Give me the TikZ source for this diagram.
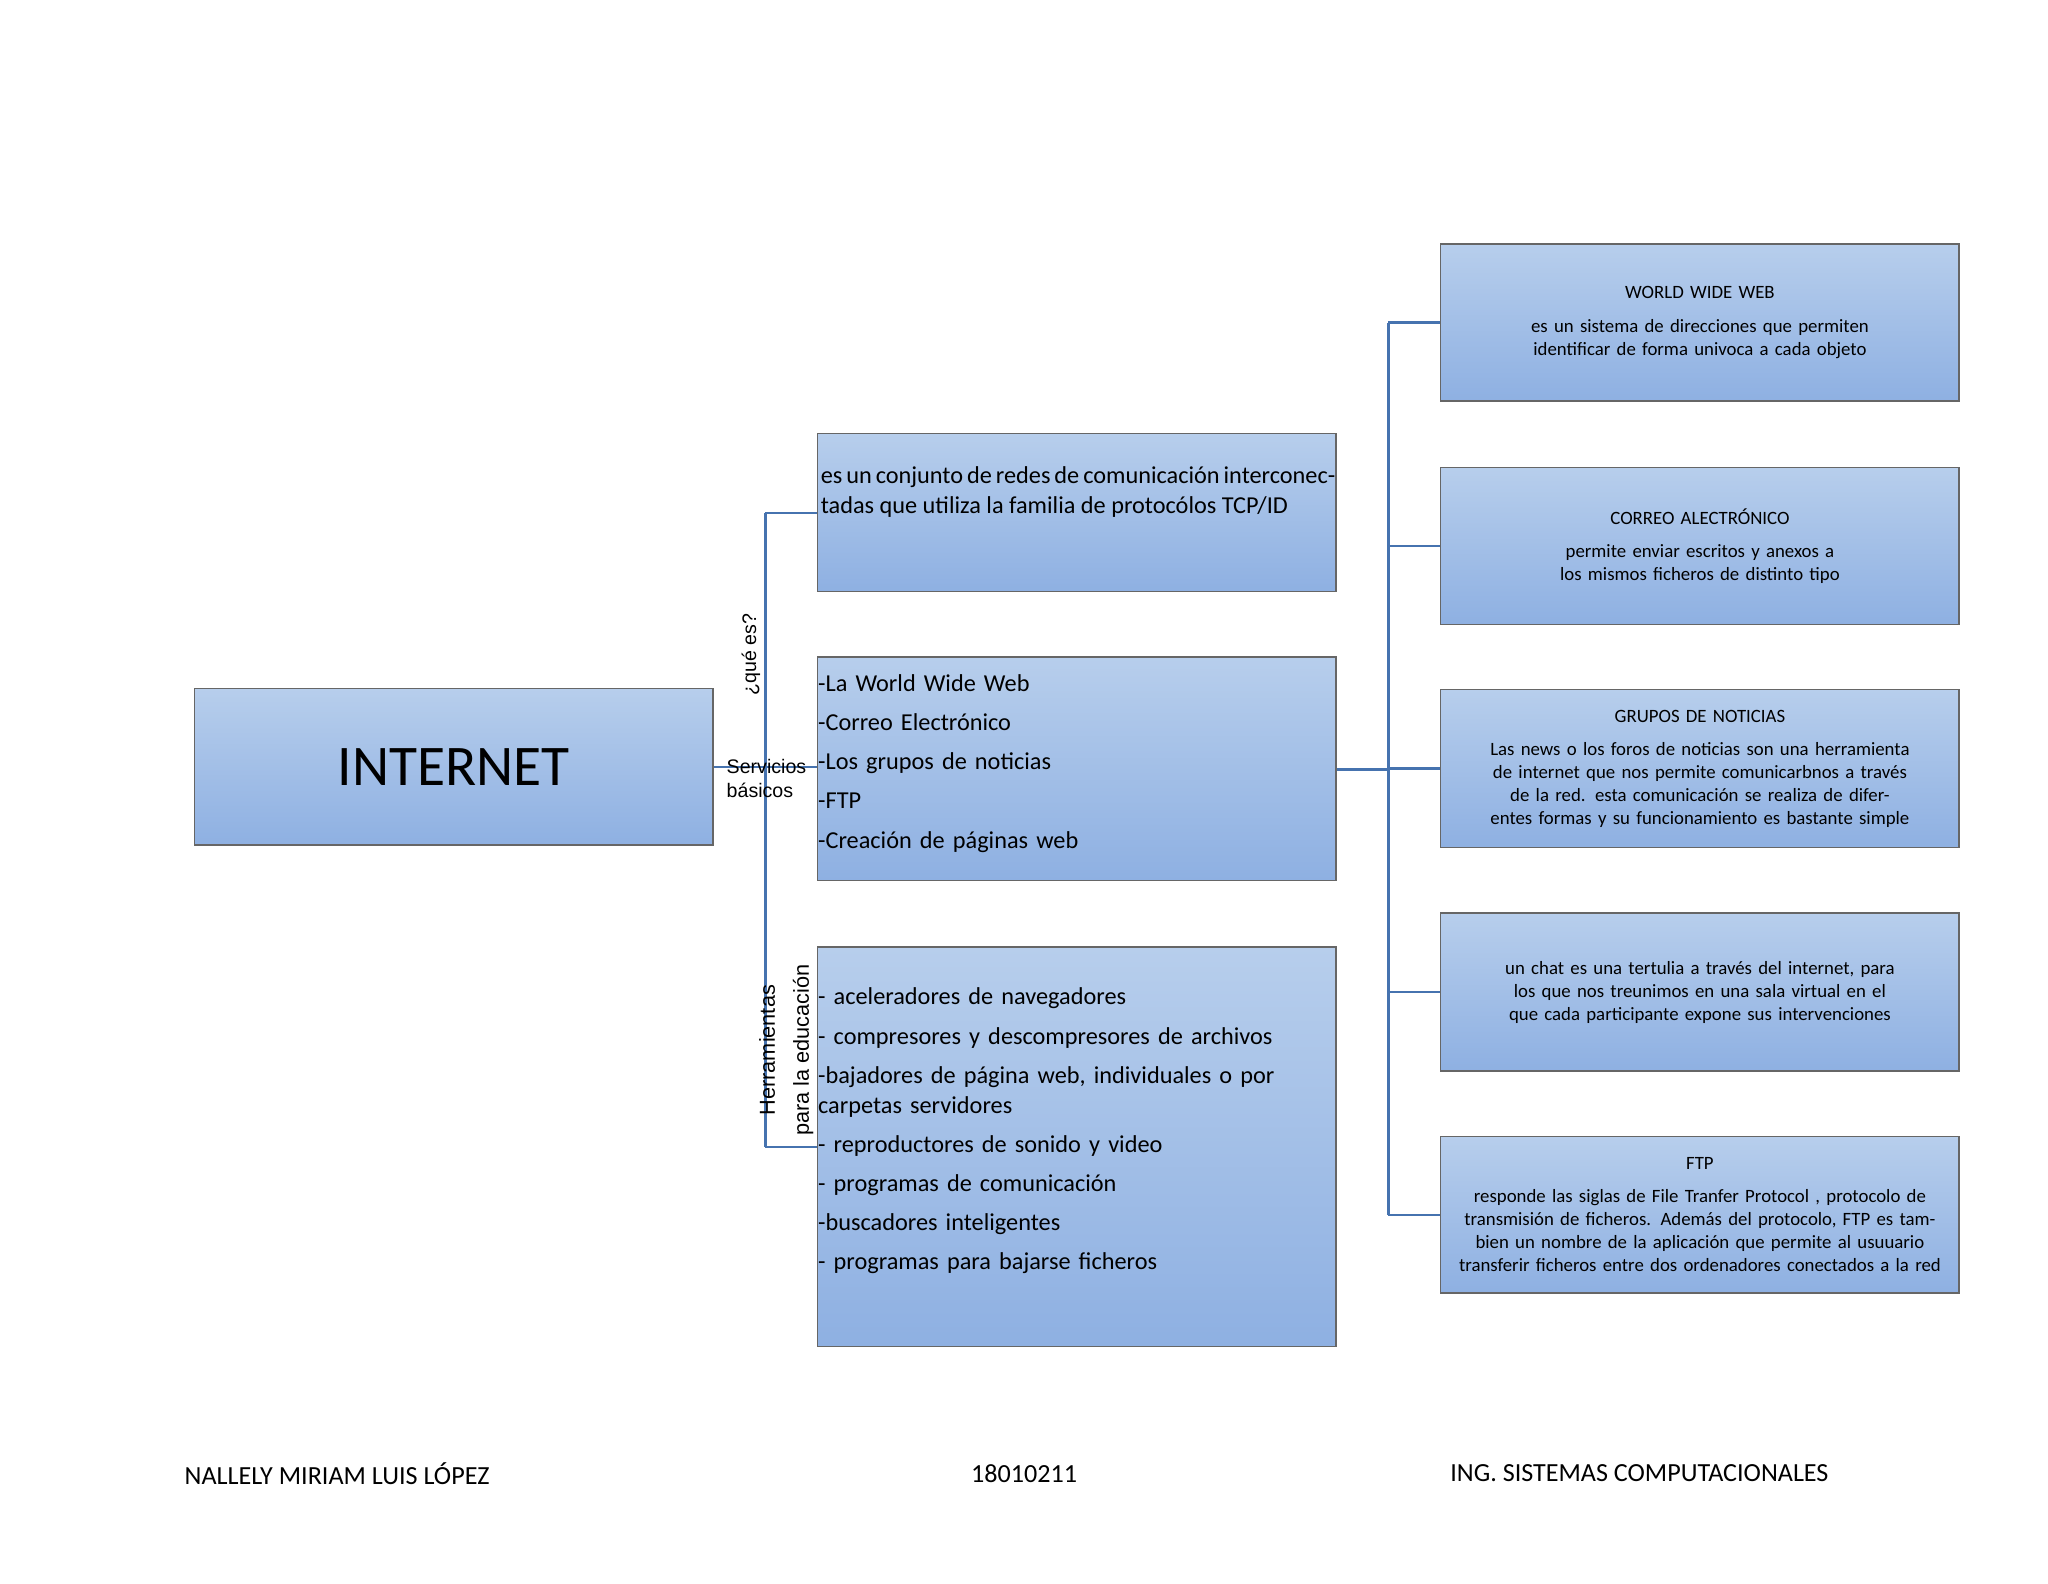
\documentclass[tikz,border=0pt]{standalone}
\usepackage{fontspec}
\setmainfont{Carlito}
\newfontfamily\arialf{Liberation Sans}
\begin{document}
\begin{tikzpicture}[x=0.5pt,y=-0.5pt,
  bx/.style={draw=gray!80!black, line width=0.6pt, top color={rgb,255:red,183;green,206;blue,236}, bottom color={rgb,255:red,142;green,176;blue,226}, inner sep=0pt},
  ln/.style={draw={rgb,255:red,70;green,115;blue,175}, line width=0.9pt},
  rt/.style={font=\fontsize{7.2}{8.8}\selectfont, align=center, text width=195pt},
  mt/.style={font=\fontsize{9.3}{15}\selectfont, anchor=north west, align=left, text width=195pt, inner sep=0pt}]
\useasboundingbox (0,0) rectangle (1568,1212);
\fill[white] (0,0) rectangle (1568,1212);
% boxes
\node[bx, minimum width=198.5pt, minimum height=60pt] (inet) at (347.5,587) {\fontsize{22}{26}\selectfont INTERNET};
\node[bx, minimum width=198.5pt, minimum height=60.5pt] (b1) at (824.5,392.5) {};
\node[bx, minimum width=198.5pt, minimum height=85.5pt] (b2) at (824.5,588.5) {};
\node[bx, minimum width=198.5pt, minimum height=153pt] (b3) at (824.5,878) {};
\node[bx, minimum width=198.5pt, minimum height=60pt] (r1) at (1301.5,247) {};
\node[bx, minimum width=198.5pt, minimum height=60pt] (r2) at (1301.5,418) {};
\node[bx, minimum width=198.5pt, minimum height=60.5pt] (r3) at (1301.5,588.5) {};
\node[bx, minimum width=198.5pt, minimum height=60.5pt] (r4) at (1301.5,759.5) {};
\node[bx, minimum width=198.5pt, minimum height=60pt] (r5) at (1301.5,930) {};
% texts in middle
\node[font=\fontsize{9.3}{11.5}\selectfont, anchor=north west, align=justify, text width=197pt, inner sep=0pt] (t1) at (628,357) {es un conjunto de redes de comunicación interconectadas que utiliza la familia de protocólos TCP/ID};
\node[mt] (t2) at (626,516) {-La World Wide Web\\-Correo Electrónico\\-Los grupos de noticias\\-FTP\\-Creación de páginas web};
\node[mt, font=\fontsize{9.3}{15}\selectfont] (t3) at (626,756) {- aceleradores de navegadores\\- compresores y descompresores de archivos\\-bajadores de página web, individuales o por\\[-3.5pt] carpetas servidores\\- reproductores de sonido y video\\- programas de comunicación\\-buscadores inteligentes\\- programas para bajarse ficheros};
% right texts
\node[rt] at (1301.5,247) {WORLD WIDE WEB\\[4pt] es un sistema de direcciones que permiten identificar de forma univoca a cada objeto};
\node[rt] at (1301.5,418) {CORREO ALECTRÓNICO\\[4pt] permite enviar escritos y anexos a los mismos ficheros de distinto tipo};
\node[rt] at (1301.5,588.5) {GRUPOS DE NOTICIAS\\[4pt] Las news o los foros de noticias son una herramienta de internet que nos permite comunicarbnos a través de la red. esta comunicación se realiza de diferentes formas y su funcionamiento es bastante simple};
\node[rt] at (1301.5,759.5) {un chat es una tertulia a través del internet, para los que nos treunimos en una sala virtual en el que cada participante expone sus intervenciones};
\node[rt] at (1301.5,930) {FTP\\[4pt] responde las siglas de File Tranfer Protocol , protocolo de transmisión de ficheros. Además del protocolo, FTP es tambien un nombre de la aplicación que permite al usuuario transferir ficheros entre dos ordenadores conectados a la red};
% connectors
\coordinate (j1) at (586,587);
\draw[ln] (inet.east) -- (j1);
\draw[ln] (586,393) -- (586,878);
\draw[ln] (586,393) -- (b1.west|-586,393);
\draw[ln] (j1) -- (b2.west|-j1);
\draw[ln] (586,878) -- (b3.west);
\coordinate (j2) at (1063,589);
\draw[ln] (b2.east|-j2) -- (j2);
\draw[ln] (1063,247) -- (1063,930);
\foreach \r in {r1,r2,r3,r4,r5}{\draw[ln] (1063,0|-\r.west) -- (\r.west);}
% labels
\node[rotate=90, font=\arialf\fontsize{7.5}{9}\selectfont, inner sep=0pt] (lq) at (575,501) {¿qué es?};
\node[font=\arialf\fontsize{7.5}{9.5}\selectfont, align=left, anchor=west, inner sep=0pt] (ls) at (556,596) {Servicios\\básicos};
\node[rotate=90, font=\arialf\fontsize{8.3}{13}\selectfont, align=center, inner sep=0pt] (lh) at (602,804) {Herramientas\\para la educación};
% footer
\node[font=\fontsize{10}{12}\selectfont, anchor=west, inner sep=0pt] (f1) at (141,1128) {NALLELY MIRIAM LUIS LÓPEZ};
\node[font=\fontsize{10}{12}\selectfont, inner sep=0pt] (f2) at (784,1128) {18010211};
\node[font=\fontsize{10}{12}\selectfont, anchor=west, inner sep=0pt] (f3) at (1110,1128) {ING. SISTEMAS COMPUTACIONALES};
\end{tikzpicture}
\end{document}
